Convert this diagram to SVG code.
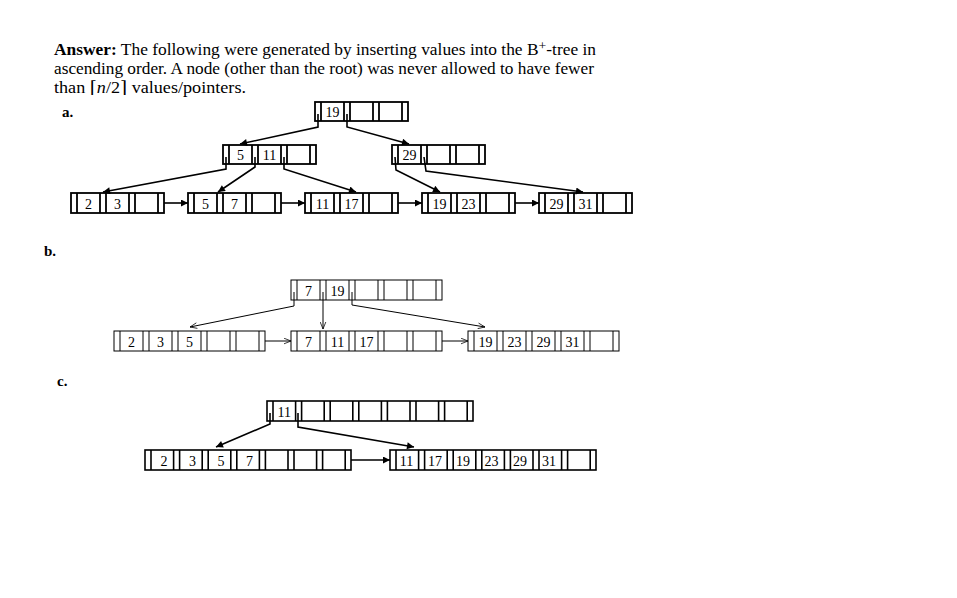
<svg xmlns="http://www.w3.org/2000/svg" width="957" height="598" viewBox="0 0 957 598">
<defs>
<style>
.txt{font-family:"Liberation Serif","DejaVu Serif",serif;font-size:16.5px;fill:#000}
.lbl{font-family:"Liberation Serif","DejaVu Serif",serif;font-size:15px;font-weight:bold;fill:#000}
.k{font-family:"Liberation Serif","DejaVu Serif",serif;font-size:14px;fill:#000;text-anchor:middle}
.na rect,.na line{stroke:#000;stroke-width:1.8;fill:none}
.nb rect,.nb line{stroke:#000;stroke-width:1;fill:none}
.nc rect,.nc line{stroke:#000;stroke-width:1.6;fill:none}
.ca{stroke:#000;stroke-width:1.6;fill:none}
.cb{stroke:#000;stroke-width:1;fill:none}
.cc{stroke:#000;stroke-width:1.6;fill:none}
</style>
<marker id="af" viewBox="0 0 10 10" refX="10" refY="5" markerWidth="11" markerHeight="7" orient="auto" markerUnits="userSpaceOnUse">
<path d="M0,0 L10,5 L0,10 z" fill="#000"/>
</marker>
<marker id="ao" viewBox="0 0 10 10" refX="10" refY="5" markerWidth="10" markerHeight="7" orient="auto" markerUnits="userSpaceOnUse">
<path d="M0,1 L10,5 L0,9" fill="none" stroke="#000" stroke-width="1.1"/>
</marker>
</defs>
<rect x="0" y="0" width="957" height="598" fill="#fff"/>

<g id="header">
<text class="txt" x="54" y="55" textLength="542" lengthAdjust="spacingAndGlyphs"><tspan font-weight="bold">Answer:</tspan> The following were generated by inserting values into the B<tspan font-size="13" dy="-5">+</tspan><tspan dy="5">-tree in</tspan></text>
<text class="txt" x="54" y="74" textLength="540" lengthAdjust="spacingAndGlyphs">ascending order. A node (other than the root) was never allowed to have fewer</text>
<text class="txt" x="54" y="93" textLength="192" lengthAdjust="spacingAndGlyphs">than ⌈<tspan font-style="italic">n</tspan>/2⌉ values/pointers.</text>
<text class="lbl" x="62" y="117">a.</text>
<text class="lbl" x="44" y="256">b.</text>
<text class="lbl" x="57" y="386">c.</text>
</g>

<!-- Part a: p=6, k=23 -->
<g id="a-root" class="na">
<rect x="315" y="102" width="93" height="19"/>
<line x1="321" y1="102" x2="321" y2="121"/><line x1="344" y1="102" x2="344" y2="121"/>
<line x1="350" y1="102" x2="350" y2="121"/><line x1="373" y1="102" x2="373" y2="121"/>
<line x1="379" y1="102" x2="379" y2="121"/><line x1="402" y1="102" x2="402" y2="121"/>
<text class="k" x="332.5" y="117">19</text>
</g>
<g id="a-int1" class="na">
<rect x="223" y="145" width="93" height="19"/>
<line x1="229" y1="145" x2="229" y2="164"/><line x1="252" y1="145" x2="252" y2="164"/>
<line x1="258" y1="145" x2="258" y2="164"/><line x1="281" y1="145" x2="281" y2="164"/>
<line x1="287" y1="145" x2="287" y2="164"/><line x1="310" y1="145" x2="310" y2="164"/>
<text class="k" x="240.5" y="160">5</text>
<text class="k" x="269.5" y="160">11</text>
</g>
<g id="a-int2" class="na">
<rect x="392" y="145" width="93" height="19"/>
<line x1="398" y1="145" x2="398" y2="164"/><line x1="421" y1="145" x2="421" y2="164"/>
<line x1="427" y1="145" x2="427" y2="164"/><line x1="450" y1="145" x2="450" y2="164"/>
<line x1="456" y1="145" x2="456" y2="164"/><line x1="479" y1="145" x2="479" y2="164"/>
<text class="k" x="409.5" y="160">29</text>
</g>
<g id="a-leaf1" class="na">
<rect x="71" y="193" width="93" height="20"/>
<line x1="77" y1="193" x2="77" y2="213"/><line x1="100" y1="193" x2="100" y2="213"/>
<line x1="106" y1="193" x2="106" y2="213"/><line x1="129" y1="193" x2="129" y2="213"/>
<line x1="135" y1="193" x2="135" y2="213"/><line x1="158" y1="193" x2="158" y2="213"/>
<text class="k" x="88.5" y="208.5">2</text>
<text class="k" x="117.5" y="208.5">3</text>
</g>
<g id="a-leaf2" class="na">
<rect x="188" y="193" width="93" height="20"/>
<line x1="194" y1="193" x2="194" y2="213"/><line x1="217" y1="193" x2="217" y2="213"/>
<line x1="223" y1="193" x2="223" y2="213"/><line x1="246" y1="193" x2="246" y2="213"/>
<line x1="252" y1="193" x2="252" y2="213"/><line x1="275" y1="193" x2="275" y2="213"/>
<text class="k" x="205.5" y="208.5">5</text>
<text class="k" x="234.5" y="208.5">7</text>
</g>
<g id="a-leaf3" class="na">
<rect x="305" y="193" width="93" height="20"/>
<line x1="311" y1="193" x2="311" y2="213"/><line x1="334" y1="193" x2="334" y2="213"/>
<line x1="340" y1="193" x2="340" y2="213"/><line x1="363" y1="193" x2="363" y2="213"/>
<line x1="369" y1="193" x2="369" y2="213"/><line x1="392" y1="193" x2="392" y2="213"/>
<text class="k" x="322.5" y="208.5">11</text>
<text class="k" x="351.5" y="208.5">17</text>
</g>
<g id="a-leaf4" class="na">
<rect x="422" y="193" width="93" height="20"/>
<line x1="428" y1="193" x2="428" y2="213"/><line x1="451" y1="193" x2="451" y2="213"/>
<line x1="457" y1="193" x2="457" y2="213"/><line x1="480" y1="193" x2="480" y2="213"/>
<line x1="486" y1="193" x2="486" y2="213"/><line x1="509" y1="193" x2="509" y2="213"/>
<text class="k" x="439.5" y="208.5">19</text>
<text class="k" x="468.5" y="208.5">23</text>
</g>
<g id="a-leaf5" class="na">
<rect x="539" y="193" width="93" height="20"/>
<line x1="545" y1="193" x2="545" y2="213"/><line x1="568" y1="193" x2="568" y2="213"/>
<line x1="574" y1="193" x2="574" y2="213"/><line x1="597" y1="193" x2="597" y2="213"/>
<line x1="603" y1="193" x2="603" y2="213"/><line x1="626" y1="193" x2="626" y2="213"/>
<text class="k" x="556.5" y="208.5">29</text>
<text class="k" x="585.5" y="208.5">31</text>
</g>

<!-- Part b: p=6, k=23 -->
<g id="b-root" class="nb">
<rect x="291" y="280" width="151" height="20"/>
<line x1="297" y1="280" x2="297" y2="300"/><line x1="320" y1="280" x2="320" y2="300"/>
<line x1="326" y1="280" x2="326" y2="300"/><line x1="349" y1="280" x2="349" y2="300"/>
<line x1="355" y1="280" x2="355" y2="300"/><line x1="378" y1="280" x2="378" y2="300"/>
<line x1="384" y1="280" x2="384" y2="300"/><line x1="407" y1="280" x2="407" y2="300"/>
<line x1="413" y1="280" x2="413" y2="300"/><line x1="436" y1="280" x2="436" y2="300"/>
<text class="k" x="308.5" y="295.5">7</text>
<text class="k" x="337.5" y="295.5">19</text>
</g>
<g id="b-leaf1" class="nb">
<rect x="114" y="331" width="151" height="20"/>
<line x1="120" y1="331" x2="120" y2="351"/><line x1="143" y1="331" x2="143" y2="351"/>
<line x1="149" y1="331" x2="149" y2="351"/><line x1="172" y1="331" x2="172" y2="351"/>
<line x1="178" y1="331" x2="178" y2="351"/><line x1="201" y1="331" x2="201" y2="351"/>
<line x1="207" y1="331" x2="207" y2="351"/><line x1="230" y1="331" x2="230" y2="351"/>
<line x1="236" y1="331" x2="236" y2="351"/><line x1="259" y1="331" x2="259" y2="351"/>
<text class="k" x="131.5" y="346.5">2</text>
<text class="k" x="160.5" y="346.5">3</text>
<text class="k" x="189.5" y="346.5">5</text>
</g>
<g id="b-leaf2" class="nb">
<rect x="291" y="331" width="151" height="20"/>
<line x1="297" y1="331" x2="297" y2="351"/><line x1="320" y1="331" x2="320" y2="351"/>
<line x1="326" y1="331" x2="326" y2="351"/><line x1="349" y1="331" x2="349" y2="351"/>
<line x1="355" y1="331" x2="355" y2="351"/><line x1="378" y1="331" x2="378" y2="351"/>
<line x1="384" y1="331" x2="384" y2="351"/><line x1="407" y1="331" x2="407" y2="351"/>
<line x1="413" y1="331" x2="413" y2="351"/><line x1="436" y1="331" x2="436" y2="351"/>
<text class="k" x="308.5" y="346.5">7</text>
<text class="k" x="337.5" y="346.5">11</text>
<text class="k" x="366.5" y="346.5">17</text>
</g>
<g id="b-leaf3" class="nb">
<rect x="468" y="331" width="151" height="20"/>
<line x1="474" y1="331" x2="474" y2="351"/><line x1="497" y1="331" x2="497" y2="351"/>
<line x1="503" y1="331" x2="503" y2="351"/><line x1="526" y1="331" x2="526" y2="351"/>
<line x1="532" y1="331" x2="532" y2="351"/><line x1="555" y1="331" x2="555" y2="351"/>
<line x1="561" y1="331" x2="561" y2="351"/><line x1="584" y1="331" x2="584" y2="351"/>
<line x1="590" y1="331" x2="590" y2="351"/><line x1="613" y1="331" x2="613" y2="351"/>
<text class="k" x="485.5" y="346.5">19</text>
<text class="k" x="514.5" y="346.5">23</text>
<text class="k" x="543.5" y="346.5">29</text>
<text class="k" x="572.5" y="346.5">31</text>
</g>

<!-- Part c: p=6, k=22.6 -->
<g id="c-root" class="nc">
<rect x="267" y="401" width="206" height="20"/>
<line x1="273" y1="401" x2="273" y2="421"/><line x1="295.6" y1="401" x2="295.6" y2="421"/>
<line x1="301.6" y1="401" x2="301.6" y2="421"/><line x1="324.2" y1="401" x2="324.2" y2="421"/>
<line x1="330.2" y1="401" x2="330.2" y2="421"/><line x1="352.8" y1="401" x2="352.8" y2="421"/>
<line x1="358.8" y1="401" x2="358.8" y2="421"/><line x1="381.4" y1="401" x2="381.4" y2="421"/>
<line x1="387.4" y1="401" x2="387.4" y2="421"/><line x1="410" y1="401" x2="410" y2="421"/>
<line x1="416" y1="401" x2="416" y2="421"/><line x1="438.6" y1="401" x2="438.6" y2="421"/>
<line x1="444.6" y1="401" x2="444.6" y2="421"/><line x1="467.2" y1="401" x2="467.2" y2="421"/>
<text class="k" x="284.3" y="416.5">11</text>
</g>
<g id="c-leaf1" class="nc">
<rect x="145" y="450" width="206" height="20"/>
<line x1="151" y1="450" x2="151" y2="470"/><line x1="173.6" y1="450" x2="173.6" y2="470"/>
<line x1="179.6" y1="450" x2="179.6" y2="470"/><line x1="202.2" y1="450" x2="202.2" y2="470"/>
<line x1="208.2" y1="450" x2="208.2" y2="470"/><line x1="230.8" y1="450" x2="230.8" y2="470"/>
<line x1="236.8" y1="450" x2="236.8" y2="470"/><line x1="259.4" y1="450" x2="259.4" y2="470"/>
<line x1="265.4" y1="450" x2="265.4" y2="470"/><line x1="288" y1="450" x2="288" y2="470"/>
<line x1="294" y1="450" x2="294" y2="470"/><line x1="316.6" y1="450" x2="316.6" y2="470"/>
<line x1="322.6" y1="450" x2="322.6" y2="470"/><line x1="345.2" y1="450" x2="345.2" y2="470"/>
<text class="k" x="164" y="465.5">2</text>
<text class="k" x="192.5" y="465.5">3</text>
<text class="k" x="221" y="465.5">5</text>
<text class="k" x="249.5" y="465.5">7</text>
</g>
<g id="c-leaf2" class="nc">
<rect x="390" y="450" width="206" height="20"/>
<line x1="396" y1="450" x2="396" y2="470"/><line x1="418.6" y1="450" x2="418.6" y2="470"/>
<line x1="424.6" y1="450" x2="424.6" y2="470"/><line x1="447.2" y1="450" x2="447.2" y2="470"/>
<line x1="453.2" y1="450" x2="453.2" y2="470"/><line x1="475.8" y1="450" x2="475.8" y2="470"/>
<line x1="481.8" y1="450" x2="481.8" y2="470"/><line x1="504.4" y1="450" x2="504.4" y2="470"/>
<line x1="510.4" y1="450" x2="510.4" y2="470"/><line x1="533" y1="450" x2="533" y2="470"/>
<line x1="539" y1="450" x2="539" y2="470"/><line x1="561.6" y1="450" x2="561.6" y2="470"/>
<line x1="567.6" y1="450" x2="567.6" y2="470"/><line x1="590.2" y1="450" x2="590.2" y2="470"/>
<text class="k" x="406.5" y="465.5">11</text>
<text class="k" x="435" y="465.5">17</text>
<text class="k" x="463" y="465.5">19</text>
<text class="k" x="491.5" y="465.5">23</text>
<text class="k" x="520" y="465.5">29</text>
<text class="k" x="549" y="465.5">31</text>
</g>

<g id="connectors">
<!-- a -->
<polyline class="ca" points="318,114 318,127 240,144" marker-end="url(#af)"/>
<polyline class="ca" points="347,114 347,127 409,144" marker-end="url(#af)"/>
<polyline class="ca" points="226,157 226,169 103,192" marker-end="url(#af)"/>
<polyline class="ca" points="255,157 255,167 218,192" marker-end="url(#af)"/>
<polyline class="ca" points="284,157 284,169 356,192" marker-end="url(#af)"/>
<polyline class="ca" points="395,157 396,170 440,192" marker-end="url(#af)"/>
<polyline class="ca" points="424,157 426,171 583,192" marker-end="url(#af)"/>
<line class="ca" x1="164" y1="203" x2="188" y2="203" marker-end="url(#af)"/>
<line class="ca" x1="281" y1="203" x2="305" y2="203" marker-end="url(#af)"/>
<line class="ca" x1="398" y1="203" x2="422" y2="203" marker-end="url(#af)"/>
<line class="ca" x1="515" y1="203" x2="539" y2="203" marker-end="url(#af)"/>
<!-- b -->
<polyline class="cb" points="294,292 294,306 190,327" marker-end="url(#ao)"/>
<polyline class="cb" points="323,292 323,329" marker-end="url(#ao)"/>
<polyline class="cb" points="352,292 352,305 485,327" marker-end="url(#ao)"/>
<line class="cb" x1="265" y1="341" x2="291" y2="341" marker-end="url(#ao)"/>
<line class="cb" x1="442" y1="341" x2="468" y2="341" marker-end="url(#ao)"/>
<!-- c -->
<polyline class="cc" points="270,413 270,424 216,447" marker-end="url(#af)"/>
<polyline class="cc" points="298,413 298,427 414,447" marker-end="url(#af)"/>
<line class="cc" x1="351" y1="460" x2="390" y2="460" marker-end="url(#af)"/>
</g>
</svg>
